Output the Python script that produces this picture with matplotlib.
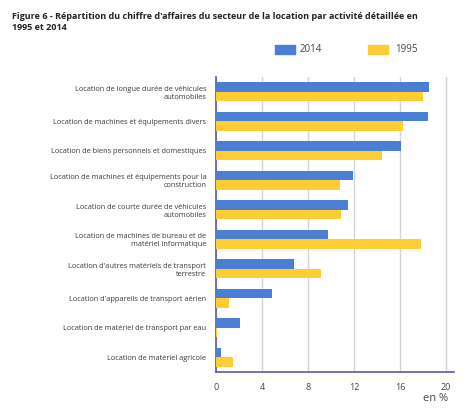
import matplotlib.pyplot as plt
import numpy as np
from matplotlib.patches import Rectangle

plt.rcParams['font.family'] = ['Open Sans', 'DejaVu Sans']

categories = [
    "Location de longue durée de véhicules\nautomobiles",
    "Location de machines et équipements divers",
    "Location de biens personnels et domestiques",
    "Location de machines et équipements pour la\nconstruction",
    "Location de courte durée de véhicules\nautomobiles",
    "Location de machines de bureau et de\nmatériel informatique",
    "Location d'autres matériels de transport\nterrestre",
    "Location d'appareils de transport aérien",
    "Location de matériel de transport par eau",
    "Location de matériel agricole",
]
values_2014 = [18.5, 18.4, 16.1, 11.9, 11.5, 9.7, 6.8, 4.9, 2.05, 0.4]
values_1995 = [18.0, 16.3, 14.4, 10.8, 10.9, 17.8, 9.1, 1.1, 0.1, 1.5]
xticks = [0, 4, 8, 12, 16, 20]

blue = '#4a7fd4'
yellow = '#ffcc33'
axis_col = '#5a5aa8'

fig = plt.figure(figsize=(4.74, 4.15), dpi=100)
ax = fig.add_axes([216 / 474, 1 - 372 / 415, (454 - 216) / 474, (372 - 77) / 415])

y = np.arange(len(categories))
h = 0.32
ax.barh(y - h / 2, values_2014, height=h, color=blue, zorder=3)
ax.barh(y + h / 2, values_1995, height=h, color=yellow, zorder=3)

ax.set_ylim(len(categories) - 0.5, -0.5)
ax.set_xlim(0, 20.7)
ax.set_yticks(y)
ax.set_yticklabels(categories, fontsize=5.3, color='#3a3a3a', ha='right',
                   multialignment='right')
ax.tick_params(axis='y', length=0, pad=7)
ax.set_xticks(xticks)
ax.set_xticklabels([str(t) for t in xticks], fontsize=6.5, color='#444444')
ax.tick_params(axis='x', length=0, pad=8)
ax.grid(axis='x', color='#d4d4d4', linewidth=1.0, zorder=0)

for s in ['top', 'right']:
    ax.spines[s].set_visible(False)
ax.spines['left'].set_color(axis_col)
ax.spines['bottom'].set_color(axis_col)
ax.spines['left'].set_linewidth(1.2)
ax.spines['bottom'].set_linewidth(1.2)

fig.text(12 / 474, 1 - 22 / 415,
         "Figure 6 - Répartition du chiffre d'affaires du secteur de la location par activité détaillée en\n1995 et 2014",
         fontsize=6.5, fontweight='bold', color='#222222', va='center', ha='left',
         linespacing=1.25)

# legend
fig.patches.append(Rectangle((275 / 474, 1 - 54 / 415), 20 / 474, 9 / 415,
                             transform=fig.transFigure, color=blue))
fig.text(300 / 474, 1 - 49.5 / 415, "2014", fontsize=7, color='#444444', va='center')
fig.patches.append(Rectangle((368 / 474, 1 - 54 / 415), 20 / 474, 9 / 415,
                             transform=fig.transFigure, color=yellow))
fig.text(395 / 474, 1 - 49.5 / 415, "1995", fontsize=7, color='#444444', va='center')

fig.text(436 / 474, 1 - 398 / 415, "en %", fontsize=8, color='#444444',
         va='center', ha='center')

fig.savefig('out.png', dpi=100, facecolor='white')
